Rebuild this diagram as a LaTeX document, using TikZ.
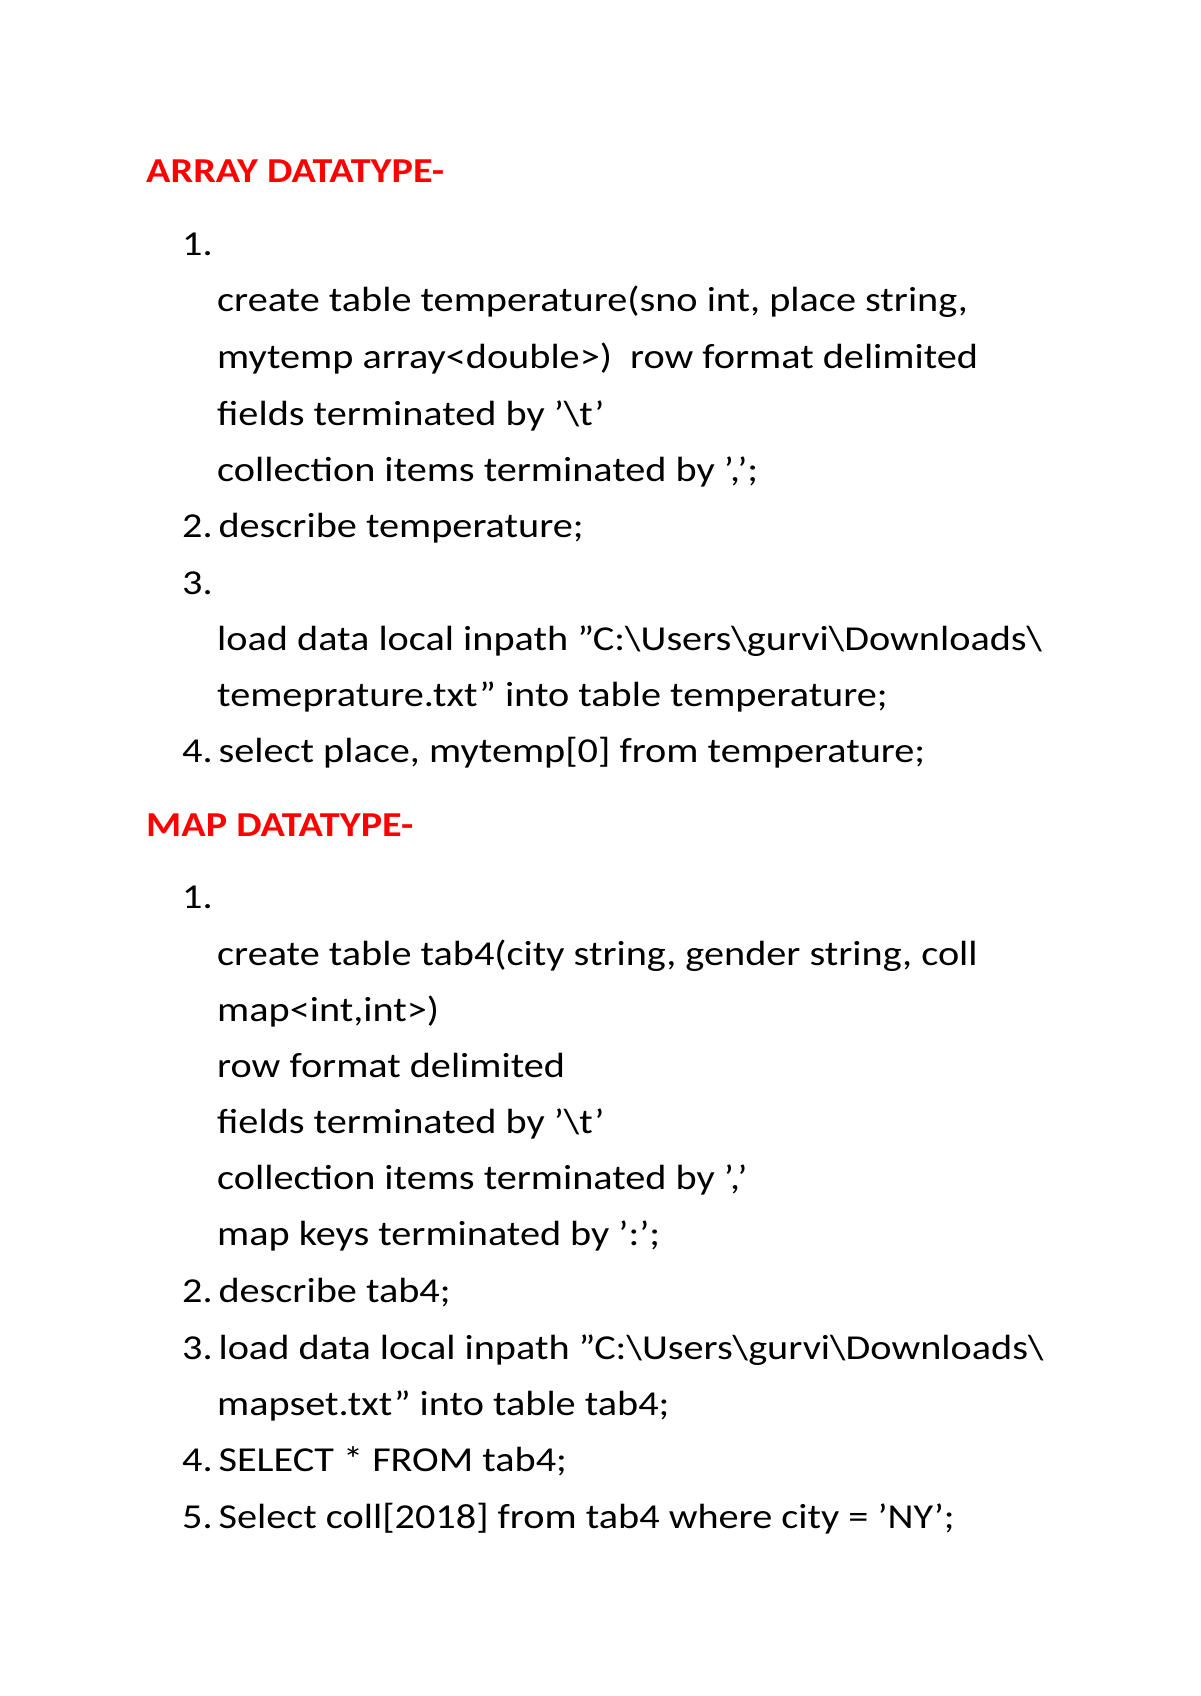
\documentclass[tikz,border=0pt]{standalone}
\usepackage{fontspec}
\setmainfont{Carlito}[FakeStretch=1.15]
\newcommand{\sq}{\symbol{39}}
\newcommand{\dq}{\symbol{34}}
\newcommand{\bs}{\textbackslash}
\begin{document}
\begin{tikzpicture}[x=1pt,y=-1pt,
  t/.style={anchor=base west,inner sep=0pt,font=\fontsize{35}{40}\selectfont},
  h/.style={t,text=red,font=\fontsize{35}{40}\selectfont\bfseries}]
\useasboundingbox (0,0) rectangle (1200,1696);
\node[h] (a0) at (146,183) {ARRAY DATATYPE-};
\node[t] (a1) at (182,256) {1.};
\node[t] (a2) at (217,311) {create table temperature(sno int, place string,};
\node[t] (a3) at (217,368) {mytemp array<double>)\ \ row format delimited};
\node[t] (a4) at (217,425) {fields terminated by \sq\bs t\sq};
\node[t] (a5) at (217,481) {collection items terminated by \sq,\sq;};
\node[t] (a6) at (182,537) {2.\,describe temperature;};
\node[t] (a7) at (182,594) {3.};
\node[t] (a8) at (217,650) {load data local inpath \dq C:\bs Users\bs gurvi\bs Downloads\bs};
\node[t] (a9) at (217,706) {temeprature.txt\dq{} into table temperature;};
\node[t] (a10) at (182,762) {4.\,select place, mytemp[0] from temperature;};
\node[h] (m0) at (146,836) {MAP DATATYPE-};
\node[t] (m1) at (182,908) {1.};
\node[t] (m2) at (217,965) {create table tab4(city string, gender string, coll};
\node[t] (m3) at (217,1021) {map<int,int>)};
\node[t] (m4) at (217,1077) {row format delimited};
\node[t] (m5) at (217,1133) {fields terminated by \sq\bs t\sq};
\node[t] (m6) at (217,1189) {collection items terminated by \sq,\sq};
\node[t] (m7) at (217,1245) {map keys terminated by \sq:\sq;};
\node[t] (m8) at (182,1302) {2.\,describe tab4;};
\node[t] (m9) at (182,1359) {3.\,load data local inpath \dq C:\bs Users\bs gurvi\bs Downloads\bs};
\node[t] (m10) at (217,1415) {mapset.txt\dq{} into table tab4;};
\node[t] (m11) at (182,1471) {4.\,SELECT * FROM tab4;};
\node[t] (m12) at (182,1528) {5.\,Select coll[2018] from tab4 where city = \sq NY\sq;};
\end{tikzpicture}
\end{document}
